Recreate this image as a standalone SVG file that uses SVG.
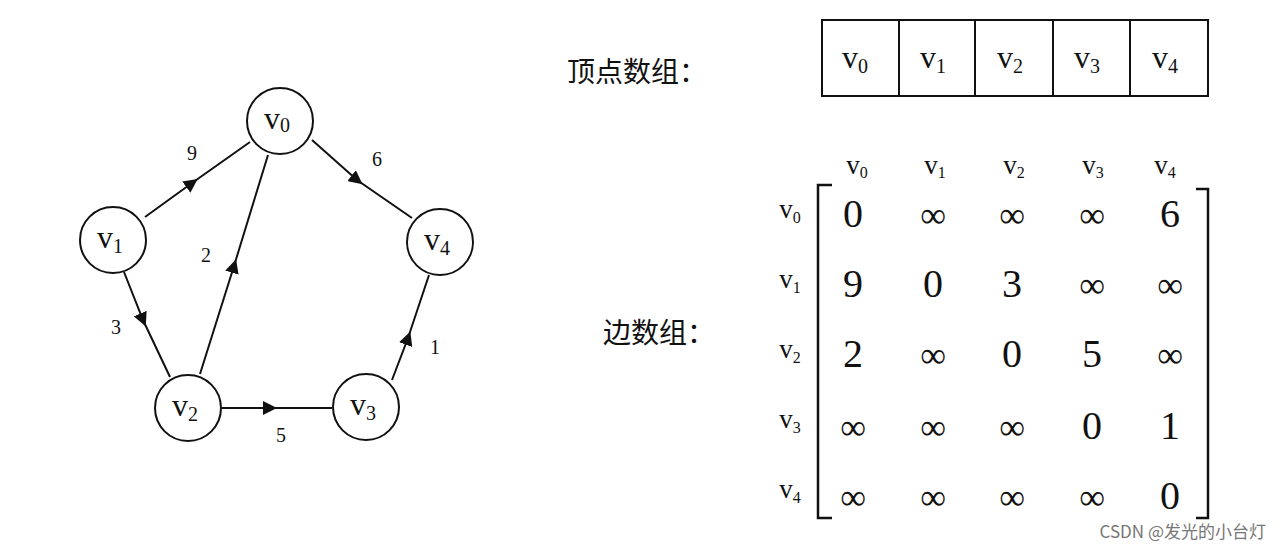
<svg xmlns="http://www.w3.org/2000/svg" width="1280" height="550" viewBox="0 0 1280 550">
<style>
.n{fill:#fff;stroke:#111;stroke-width:2}
.t{font-family:"Liberation Serif",serif;fill:#111}
.e{stroke:#111;stroke-width:2;fill:none;marker-mid:url(#a)}
.cj{font-family:"Noto Sans CJK SC",sans-serif;fill:#111;font-size:28px}
.m{font-family:"Liberation Serif",serif;fill:#111;font-size:40px;text-anchor:middle}
.h{font-family:"Liberation Serif",serif;fill:#111;font-size:27px;text-anchor:middle}
</style>
<defs><marker id="a" viewBox="0 0 10 10" refX="5" refY="5" markerWidth="14" markerHeight="14" markerUnits="userSpaceOnUse" orient="auto"><path d="M0,0L10,5L0,10z" fill="#111"/></marker></defs>
<rect width="1280" height="550" fill="#fff"/>
<g id="edges">
<polyline class="e" points="145,217 192,183 250,142"/>
<polyline class="e" points="312,140 357,180 412,218"/>
<polyline class="e" points="200,374 234,266 268,155"/>
<polyline class="e" points="124,272 143,320 170,377"/>
<polyline class="e" points="222,408 270,408 332,408"/>
<polyline class="e" points="392,380 408,338 429,275"/>
<g class="t" font-size="20"><text x="187" y="160">9</text><text x="372" y="166">6</text><text x="201" y="262">2</text><text x="111" y="334">3</text><text x="276" y="442">5</text><text x="430" y="354">1</text></g>
</g>
<g id="v0"><circle class="n" cx="280" cy="121" r="33"/><text class="t" x="264" y="129" font-size="32">v<tspan font-size="20" dy="3">0</tspan></text></g>
<g id="v1"><circle class="n" cx="113" cy="240" r="33"/><text class="t" x="97" y="248" font-size="32">v<tspan font-size="20" dy="5">1</tspan></text></g>
<g id="v4"><circle class="n" cx="440" cy="242" r="33"/><text class="t" x="424" y="250" font-size="32">v<tspan font-size="20" dy="5">4</tspan></text></g>
<g id="v2"><circle class="n" cx="188" cy="408" r="33"/><text class="t" x="172" y="416" font-size="32">v<tspan font-size="20" dy="5">2</tspan></text></g>
<g id="v3"><circle class="n" cx="366" cy="407" r="33"/><text class="t" x="350" y="415" font-size="32">v<tspan font-size="20" dy="5">3</tspan></text></g>
<g id="vertex-array">
<text class="cj" x="567" y="82">顶点数组：</text>
<rect x="822" y="20" width="386" height="76" fill="none" stroke="#111" stroke-width="2"/>
<path d="M899,20V96M975,20V96M1053,20V96M1130,20V96" stroke="#111" stroke-width="2"/>
<g class="t" font-size="32"><text x="842" y="68">v<tspan font-size="20" dy="5">0</tspan></text><text x="920" y="68">v<tspan font-size="20" dy="5">1</tspan></text><text x="997" y="68">v<tspan font-size="20" dy="5">2</tspan></text><text x="1074" y="68">v<tspan font-size="20" dy="5">3</tspan></text><text x="1152" y="68">v<tspan font-size="20" dy="5">4</tspan></text></g>
</g>
<g id="edge-matrix">
<text class="cj" x="603" y="343">边数组：</text>
<path d="M832,185H818V518H832M1196,189H1208V518H1196" fill="none" stroke="#111" stroke-width="2.5"/>
<g class="h"><text x="857" y="174">v<tspan font-size="16" dy="4">0</tspan></text><text x="935" y="174">v<tspan font-size="16" dy="4">1</tspan></text><text x="1014" y="174">v<tspan font-size="16" dy="4">2</tspan></text><text x="1093" y="174">v<tspan font-size="16" dy="4">3</tspan></text><text x="1165" y="174">v<tspan font-size="16" dy="4">4</tspan></text>
<text x="790" y="218">v<tspan font-size="16" dy="5">0</tspan></text><text x="790" y="288">v<tspan font-size="16" dy="5">1</tspan></text><text x="790" y="358">v<tspan font-size="16" dy="5">2</tspan></text><text x="790" y="428">v<tspan font-size="16" dy="5">3</tspan></text><text x="790" y="498">v<tspan font-size="16" dy="5">4</tspan></text></g>
<g class="m">
<text x="853" y="227">0</text><text x="933" y="227" font-size="36">∞</text><text x="1012" y="227" font-size="36">∞</text><text x="1092" y="227" font-size="36">∞</text><text x="1170" y="227">6</text>
<text x="853" y="297">9</text><text x="933" y="297">0</text><text x="1012" y="297">3</text><text x="1092" y="297" font-size="36">∞</text><text x="1170" y="297" font-size="36">∞</text>
<text x="853" y="367">2</text><text x="933" y="367" font-size="36">∞</text><text x="1012" y="367">0</text><text x="1092" y="367">5</text><text x="1170" y="367" font-size="36">∞</text>
<text x="853" y="439" font-size="36">∞</text><text x="933" y="439" font-size="36">∞</text><text x="1012" y="439" font-size="36">∞</text><text x="1092" y="439">0</text><text x="1170" y="439">1</text>
<text x="853" y="509" font-size="36">∞</text><text x="933" y="509" font-size="36">∞</text><text x="1012" y="509" font-size="36">∞</text><text x="1092" y="509" font-size="36">∞</text><text x="1170" y="509">0</text>
</g>
</g>
<text x="1266" y="538" text-anchor="end" font-family="'Noto Sans CJK SC',sans-serif" font-size="17" fill="#777">CSDN @发光的小台灯</text>
</svg>
